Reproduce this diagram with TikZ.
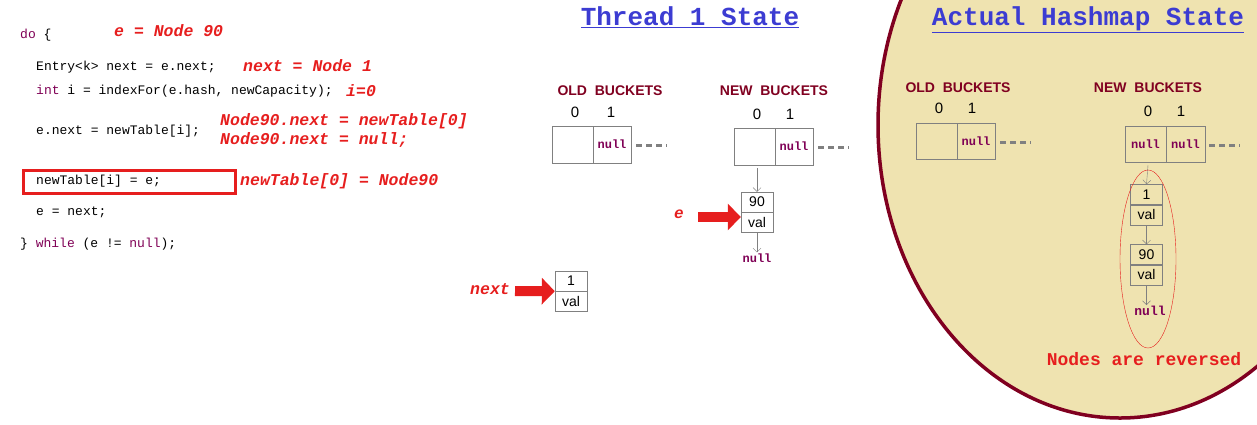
\documentclass[tikz,border=0pt]{standalone}
\usepackage{fontspec}
\setmainfont{Liberation Sans}
\setmonofont{Liberation Mono}
\usetikzlibrary{arrows.meta}
\definecolor{kw}{RGB}{127,0,85}
\definecolor{maroon}{RGB}{128,0,32}
\definecolor{sand}{RGB}{239,227,176}
\definecolor{titleblue}{RGB}{60,60,210}
\definecolor{annot}{RGB}{230,30,30}
\newcommand{\kw}[1]{\textcolor{kw}{#1}}
\newcommand{\nul}{\textcolor{kw}{null}}
\tikzset{
	code/.style={anchor=west,font=\ttfamily\fontsize{13}{13}\selectfont,inner sep=0pt},
	note/.style={anchor=west,text=annot,font=\ttfamily\bfseries\itshape\fontsize{16.5}{16.5}\selectfont,inner sep=0pt},
	title/.style={text=titleblue,font=\ttfamily\bfseries\fontsize{26}{26}\selectfont,inner sep=0pt},
	bucketlbl/.style={text=maroon,font=\bfseries\fontsize{14}{14}\selectfont,inner sep=0pt},
	idx/.style={font=\fontsize{15}{15}\selectfont,inner sep=0pt},
	cell/.style={draw=gray,minimum width=40pt,minimum height=37pt,inner sep=0pt,font=\ttfamily\bfseries\fontsize{12}{12}\selectfont},
	entry/.style={draw=gray,minimum width=32pt,minimum height=20pt,inner sep=0pt,font=\fontsize{14}{14}\selectfont},
	link/.style={draw=gray,-{Straight Barb[length=4pt,width=8pt]}},
	more/.style={draw=gray,line width=3pt,dash pattern=on 6pt off 4pt},
	fat/.style={draw=annot,line width=10pt,-{Triangle[length=13pt,width=26pt]}}
}
\begin{document}
\begin{tikzpicture}[x=1pt,y=-1pt]
	\useasboundingbox (0,0) rectangle (1257,424);
	% hashmap background
	\fill[sand] (1120,125) ellipse [x radius=242,y radius=293];
	\draw[maroon,line width=3.5pt] (1120,125) ellipse [x radius=242,y radius=293];
	\fill[white] (0,424) rectangle (1257,440);

	% code
	\node[code] (l1) at (20,35) {\kw{do} \{};
	\node[code] (l2) at (36,67) {Entry<k> next = e.next;};
	\node[code] (l3) at (36,91) {\kw{int} i = indexFor(e.hash, newCapacity);};
	\node[code] (l4) at (36,131) {e.next = newTable[i];};
	\node[code] (l5) at (36,181) {newTable[i] = e;};
	\node[code] (l6) at (36,212) {e = next;};
	\node[code] (l7) at (20,244) {\} \kw{while} (e != \kw{null});};
	\draw[annot,line width=3pt] (23,170) rectangle (235,193);

	% notes
	\node[note] (n1) at (114,31) {e = Node 90};
	\node[note] (n2) at (243,66) {next = Node 1};
	\node[note] (n3) at (346,91) {i=0};
	\node[note] (n4) at (220,121) {Node90.next = newTable[0]};
	\node[note] (n5) at (220,140) {Node90.next = null;};
	\node[note] (n6) at (240,181) {newTable[0] = Node90};

	% thread 1 state
	\node[title] (t1) at (690,17) {\underline{Thread 1 State}};
	\node[bucketlbl] (told) at (610,91) {OLD\ \ BUCKETS};
	\node[idx] at (575,112) {0};
	\node[idx] at (611,112) {1};
	\node[cell,minimum width=41pt] (to0) at (572.5,144.5) {};
	\node[cell,minimum width=38pt] (to1) at (612,144.5) {\nul};
	\draw[more] (to1.east) ++(5,1) -- ++(31,0);
	\node[bucketlbl] (tnew) at (774,91) {NEW\ \ BUCKETS};
	\node[idx] at (757,114) {0};
	\node[idx] at (790,114) {1};
	\node[cell,minimum width=41pt] (tn0) at (754.5,146.5) {};
	\node[cell,minimum width=38pt] (tn1) at (794,146.5) {\nul};
	\draw[more] (tn1.east) ++(5,1) -- ++(31,0);
	\node[entry] (t90k) at (757,202) {90};
	\node[entry,anchor=north] (t90v) at (t90k.south) {val};
	\node[inner sep=1pt,font=\ttfamily\bfseries\fontsize{12}{12}\selectfont] (tnull) at (757,258) {\nul};
	\draw[link] (757,168) -- (t90k.north);
	\draw[link] (t90v.south) -- (tnull.north);
	\node[note,font=\ttfamily\bfseries\itshape\fontsize{16}{16}\selectfont] (e) at (674,214) {e};
	\draw[fat] (698,217) -- (t90k.west |- 0,217);
	\node[entry] (t1k) at (571,281) {1};
	\node[entry,anchor=north] (t1v) at (t1k.south) {val};
	\node[note] (nx) at (470,289) {next};
	\draw[fat] (515,291) -- (t1v.north west);

	% actual hashmap state
	\node[title,font=\ttfamily\bfseries\fontsize{26}{26}\selectfont] (t2) at (1088,20) {\underline{Actual Hashmap State}};
	\node[bucketlbl] (aold) at (958,88) {OLD\ \ BUCKETS};
	\node[idx] at (939,108) {0};
	\node[idx] at (972,108) {1};
	\node[cell,minimum width=41pt,minimum height=36pt] (ao0) at (936.5,141) {};
	\node[cell,minimum width=38pt,minimum height=36pt] (ao1) at (976,141) {\nul};
	\draw[more] (ao1.east) ++(5,1) -- ++(31,0);
	\node[bucketlbl] (anew) at (1148,88) {NEW\ \ BUCKETS};
	\node[idx] at (1148,111) {0};
	\node[idx] at (1181,111) {1};
	\node[cell,minimum width=41pt,minimum height=36pt] (an0) at (1145.5,144) {\nul};
	\node[cell,minimum width=39pt,minimum height=36pt] (an1) at (1185.5,144) {\nul};
	\draw[more] (an1.east) ++(4,1) -- ++(31,0);
	\node[entry] (a1k) at (1146.5,194.5) {1};
	\node[entry,anchor=north] (a1v) at (a1k.south) {val};
	\node[entry] (a90k) at (1146.5,254.5) {90};
	\node[entry,anchor=north] (a90v) at (a90k.south) {val};
	\node[inner sep=1pt,font=\ttfamily\bfseries\fontsize{13}{13}\selectfont] (anull) at (1150,311) {\nul};
	\draw[link] (1148,165) -- (a1k.north);
	\draw[link] (a1v.south) -- (a90k.north);
	\draw[link] (a90v.south) -- (a90v.south |- anull.north);
	\draw[annot] (1148,259) ellipse [x radius=28,y radius=89];
	\node[text=annot,font=\ttfamily\bfseries\fontsize{18}{18}\selectfont,inner sep=0pt] (rev) at (1144,359) {Nodes are reversed};
\end{tikzpicture}
\end{document}
